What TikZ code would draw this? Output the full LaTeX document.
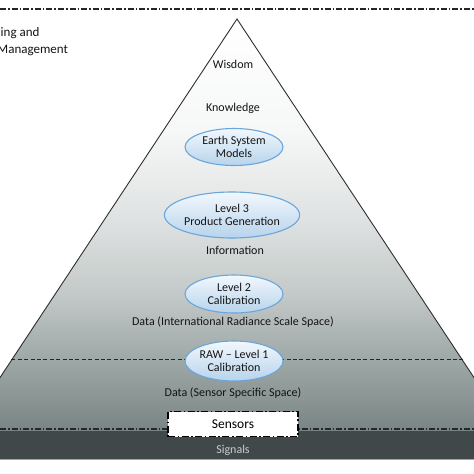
\documentclass[tikz,border=0pt]{standalone}
\usepackage{fontspec}
\setmainfont{Carlito}
\usetikzlibrary{shapes.geometric}
\definecolor{txtc}{HTML}{141414}
\definecolor{linec}{HTML}{2E2E2E}
\definecolor{ellc}{HTML}{6AA6DA}
\definecolor{ellt}{HTML}{F2F8FD}
\definecolor{ellm}{HTML}{DCEAF7}
\definecolor{ellb}{HTML}{B7D3EC}
\definecolor{bandc}{HTML}{414849}
\definecolor{sigc}{HTML}{C8CDCD}
\definecolor{g0}{HTML}{788584}
\definecolor{g1}{HTML}{889392}
\definecolor{g2}{HTML}{A8B1B0}
\definecolor{g3}{HTML}{C3C9C8}
\definecolor{g4}{HTML}{E0E3E3}
\definecolor{g5}{HTML}{F6F7F7}
\pgfdeclareverticalshading{pyramid}{100bp}{
  color(0bp)=(g0);
  color(25bp)=(g0);
  color(28.5bp)=(g1);
  color(35.9bp)=(g2);
  color(41.5bp)=(g3);
  color(51.1bp)=(g4);
  color(61.5bp)=(g5);
  color(75bp)=(white);
  color(100bp)=(white)}
\begin{document}
\begin{tikzpicture}[x=1pt,y=-1pt,
  lbl/.style={font=\fontsize{12}{13.5}\selectfont, text=txtc, align=center, inner sep=0pt},
  stage/.style={ellipse, draw=ellc, line width=1.1pt, top color=ellt, middle color=ellm, bottom color=ellb,
    font=\fontsize{12}{13.5}\selectfont, text=txtc, align=center, inner sep=0pt},
  dashdot/.style={line width=1.4pt, draw=black!85, dash pattern=on 6pt off 2pt on 1.6pt off 2pt},
]
\useasboundingbox (0,0) rectangle (474,474);
\clip (0,0) rectangle (474,474);
% top boundary line
\coordinate (tl) at (0,9);
\coordinate (tr) at (474,9);
\draw[dashdot] (tl) -- (tr);
% pyramid
\coordinate (apex) at (237,19);
\coordinate (bl) at (-35.3,431);
\coordinate (br) at (509.3,431);
\shade[shading=pyramid] (apex) -- (bl) -- (br) -- cycle;
\draw[linec, line width=0.9pt] (bl) -- (apex) -- (br);
% signals band
\fill[bandc] (0,430.5) rectangle (474,459.5);
\draw[sigc!70!bandc, line width=0.8pt] (0,459.5) -- (474,459.5);
% dashed level line
\coordinate (dl) at (11.3,359);
\coordinate (dr) at (462.7,359);
\draw[black!85, line width=1pt, dash pattern=on 4pt off 2.4pt] (dl) -- (dr);
% dash-dot sensor line
\coordinate (sl) at (0,429);
\coordinate (sr) at (474,429);
\draw[dashdot] (sl) -- (sr);
% top-left caption
\node[anchor=west, inner sep=0pt, font=\fontsize{13}{15}\selectfont, text=txtc] (cap1) at (0.5,33) {ing and};
\node[anchor=west, inner sep=0pt, font=\fontsize{13}{15}\selectfont, text=txtc] (cap2) at (-3,50) {Management};
% labels
\node[lbl] (wisdom) at (233,64) {Wisdom};
\node[lbl] (knowledge) at (233,108) {Knowledge};
\node[stage, minimum width=98pt, minimum height=37pt] (esm) at (234,147) {Earth System\\Models};
\node[stage, minimum width=125pt, minimum height=46pt] (l3) at (232,215) {Level 3\\Product Generation};
\node[lbl] (info) at (235,250) {Information};
\node[stage, minimum width=98pt, minimum height=38pt] (l2) at (234,294) {Level 2\\Calibration};
\node[lbl] (dirss) at (233,322) {Data (International Radiance Scale Space)};
\node[stage, minimum width=98pt, minimum height=40pt] (l1) at (234,361) {RAW -- Level 1\\Calibration};
\node[lbl] (dsss) at (233,393) {Data (Sensor Specific Space)};
\node[draw=black, fill=white, line width=1.8pt, dash pattern=on 7pt off 2.5pt on 1.6pt off 2.5pt,
  minimum width=130pt, minimum height=25pt, inner sep=0pt,
  font=\fontsize{13.5}{15}\selectfont, text=black] (sensors) at (233,424) {Sensors};
\node[lbl, text=sigc] (signals) at (233,450) {Signals};
\end{tikzpicture}
\end{document}
